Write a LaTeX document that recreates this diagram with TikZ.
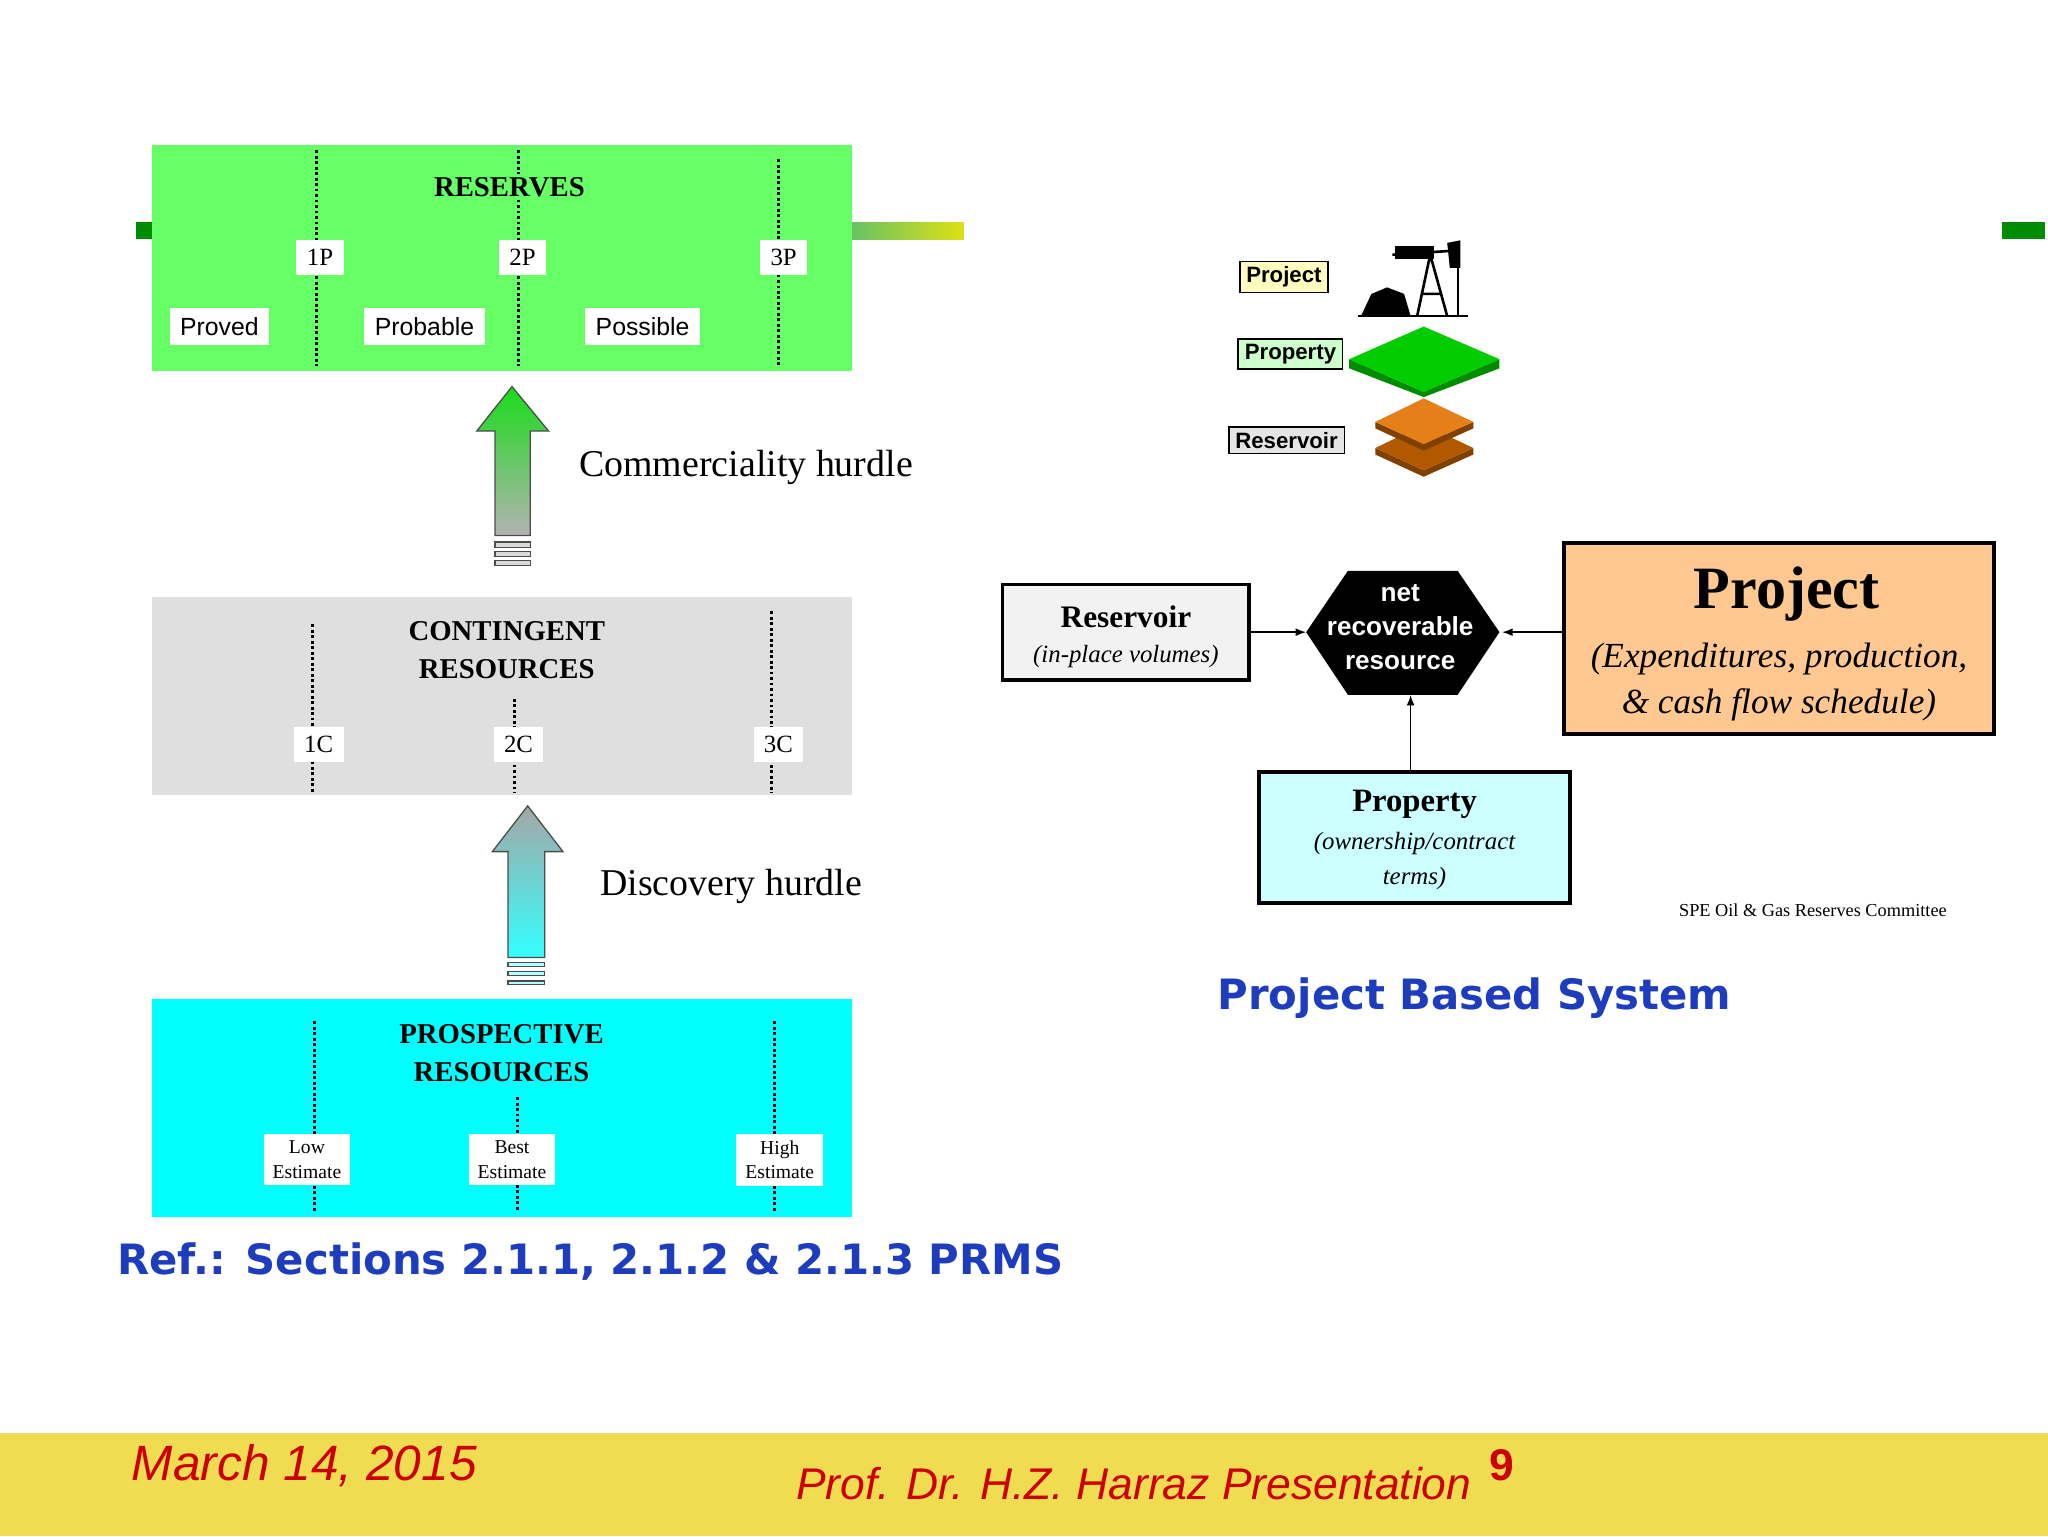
\documentclass[tikz,border=0pt]{standalone}
\usepackage{fontspec}
\setmainfont{Liberation Serif}
\newfontfamily\sansf{Liberation Sans}
\newfontfamily\comic{DejaVu Sans}
\usetikzlibrary{shapes.geometric,arrows.meta}
\definecolor{resg}{RGB}{102,255,102}
\definecolor{refblue}{RGB}{30,60,190}
\definecolor{projor}{RGB}{255,200,145}
\definecolor{propcy}{RGB}{204,255,255}
\definecolor{footy}{RGB}{240,220,80}
\definecolor{cy}{RGB}{0,255,255}
\begin{document}
\begin{tikzpicture}[x=1pt,y=-1pt,
 dot/.style={line width=2.2pt,dotted,black},
 lab/.style={fill=white,inner xsep=8pt,inner ysep=7pt,font=\fontsize{19}{20}\selectfont},
 slab/.style={fill=white,inner xsep=8pt,inner ysep=7pt,font=\sansf\fontsize{19}{20}\selectfont},
 est/.style={fill=white,inner xsep=7pt,inner ysep=5pt,align=center,font=\fontsize{15}{19}\selectfont},
 title/.style={font=\bfseries\fontsize{22}{29}\selectfont,align=center},
 hurdle/.style={font=\fontsize{29}{30}\selectfont,anchor=west},
 blk/.style={draw=black,line width=3pt},
 con/.style={-{Latex[length=8pt,width=6pt]},line width=1.2pt},
 ilab/.style={draw=black,line width=1.2pt,inner xsep=5pt,inner ysep=4pt,font=\sansf\bfseries\fontsize{17}{18}\selectfont}]
\useasboundingbox (0,0) rectangle (1568,1176);
% top bars
\fill[green!55!black] (104,170) rectangle (116,183);
\shade[left color=green!60!black!60, right color=yellow!70!olive!80] (652,170) rectangle (738,183);
\fill[green!55!black] (1533,170) rectangle (1566,183);
% reserves
\fill[resg] (116,111) rectangle (652,284);
\draw[dot] (242,115)--(242,280); \draw[dot] (397,115)--(397,280); \draw[dot] (596,122)--(596,280);
\node[title,fill=resg,inner sep=2pt] (res) at (390,143) {RESERVES};
\node[lab] (p1) at (245,197) {1P};
\node[lab] (p2) at (400,197) {2P};
\node[lab] (p3) at (600,197) {3P};
\node[slab] (prv) at (168,250) {Proved};
\node[slab] (prb) at (325,250) {Probable};
\node[slab] (pos) at (492,250) {Possible};
% green arrow
\shade[top color=green!85!black!90,bottom color=gray!60,draw=black!70,line width=1pt]
 (379,410)--(379,330)--(365,330)--(392,296)--(420,330)--(406,330)--(406,410)--cycle;
\foreach \y in {415,422,429} \draw[black!70,line width=1pt,fill=gray!30] (379,\y) rectangle (406,\y+4);
\node[hurdle] (ch) at (440,358) {Commerciality hurdle};
% contingent
\fill[gray!25] (116,457) rectangle (652,609);
\draw[dot] (239,478)--(239,607); \draw[dot] (394,535)--(394,607); \draw[dot] (591,468)--(591,607);
\node[title,fill=gray!25,inner sep=1pt] (cr) at (388,498) {CONTINGENT\\RESOURCES};
\node[lab] (c1) at (244,570) {1C};
\node[lab] (c2) at (397,570) {2C};
\node[lab] (c3) at (596,570) {3C};
% gray arrow
\shade[top color=gray!70,bottom color=cy!80,draw=black!70,line width=1pt]
 (389,733)--(389,652)--(377,652)--(404,617)--(431,652)--(417,652)--(417,733)--cycle;
\foreach \y in {737,744,751} \draw[black!70,line width=1pt,fill=cy!30] (389,\y) rectangle (417,\y+3);
\node[hurdle] (dh) at (456,679) {Discovery hurdle};
% prospective
\fill[cy] (116,765) rectangle (652,932);
\draw[dot] (241,782)--(241,928); \draw[dot] (396,840)--(396,928); \draw[dot] (593,782)--(593,928);
\node[title,fill=cy,inner sep=1pt] (pr) at (384,806) {PROSPECTIVE\\RESOURCES};
\node[est] (lo) at (235,888) {Low\\Estimate};
\node[est] (be) at (392,888) {Best\\Estimate};
\node[est] (hi) at (597,888) {High\\Estimate};
\node[font=\comic\bfseries\fontsize{32}{34}\selectfont,text=refblue] (ref) at (452,966) {Ref.: Sections 2.1.1, 2.1.2 \& 2.1.3 PRMS};
% icons
\node[ilab,fill=yellow!25] (ipj) at (983,212) {Project};
\node[ilab,fill=green!20] (ipp) at (988,271) {Property};
\node[ilab,fill=gray!20] (irs) at (985,337) {Reservoir};
% pumpjack
\fill[black] (1042,242) -- (1050,225) -- (1062,220) -- (1075,225) -- (1080,242) -- cycle;
\draw[black,line width=2pt] (1085,242)--(1095,195)--(1108,242) (1088,225)--(1104,225) (1066,195)--(1112,192);
\fill[black] (1068,188) rectangle (1098,198);
\fill[black] (1108,186) -- (1118,184) -- (1118,205) -- (1110,205) -- cycle;
\draw[black,line width=1.5pt] (1040,242)--(1124,242) (1116,200)--(1116,242);
% property diamond
\fill[green!55!black] (1033,275)--(1090,300)--(1148,275)--(1148,282)--(1090,304)--(1033,282)--cycle;
\fill[green!80!black] (1033,275)--(1090,250)--(1148,275)--(1090,300)--cycle;
% reservoir stacked
\foreach \dy/\c in {20/orange!70!black,0/orange!60!brown} {
 \fill[orange!50!black] (1053,\dy+323)--(1090,\dy+340)--(1128,\dy+323)--(1128,\dy+328)--(1090,\dy+345)--(1053,\dy+328)--cycle;
 \fill[\c] (1053,\dy+323)--(1090,\dy+305)--(1128,\dy+323)--(1090,\dy+340)--cycle;}
% project based diagram
\node[blk,fill=gray!10,minimum width=189pt,minimum height=73pt] (rv) at (862,484) {};
\node[font=\bfseries\fontsize{24}{28}\selectfont] (rvt) at (862,472) {Reservoir};
\node[font=\itshape\fontsize{19}{22}\selectfont] (rvs) at (862,503) {(in-place volumes)};
\fill[black] (1000,484)--(1032,437)--(1116,437)--(1148,484)--(1116,532)--(1032,532)--cycle;
\coordinate (hexW) at (1000,484);
\coordinate (hexE) at (1150,484);
\coordinate (hexS) at (1080,532);
\node[text=white,align=center,font=\sansf\bfseries\fontsize{20}{26}\selectfont] (nr) at (1072,480) {net\\recoverable\\resource};
\node[blk,fill=projor,minimum width=329pt,minimum height=146pt] (pj) at (1362,489) {};
\node[font=\bfseries\fontsize{46}{48}\selectfont] (pjt) at (1368,455) {Project};
\node[align=center,font=\itshape\fontsize{27}{35}\selectfont] (pjs) at (1362,522) {(Expenditures, production,\\\& cash flow schedule)};
\node[blk,fill=propcy,minimum width=238pt,minimum height=100pt] (pp) at (1083,641) {};
\node[font=\bfseries\fontsize{25}{28}\selectfont] (ppt) at (1083,616) {Property};
\node[align=center,font=\itshape\fontsize{19}{27}\selectfont] (pps) at (1083,659) {(ownership/contract\\terms)};
\draw[con] (rv.east) -- (hexW);
\draw[con] (pj.west |- hexE) -- (hexE);
\draw[con] (pp.north -| hexS) -- (hexS);
\node[font=\fontsize{14}{16}\selectfont] (spe) at (1388,697) {SPE Oil \& Gas Reserves Committee};
\node[font=\comic\bfseries\fontsize{32}{34}\selectfont,text=refblue] (pbs) at (1129,764) {Project Based System};
% footer
\fill[footy] (0,1097) rectangle (1568,1176);
\node[font=\sansf\itshape\fontsize{38}{40}\selectfont,text=red!80!black] (dt) at (233,1122) {March 14, 2015};
\node[font=\sansf\itshape\fontsize{34}{36}\selectfont,text=red!80!black] (au) at (868,1136) {Prof. Dr. H.Z. Harraz Presentation};
\node[font=\sansf\bfseries\fontsize{34}{36}\selectfont,text=red!80!black] (pg) at (1150,1122) {9};
\end{tikzpicture}
\end{document}
